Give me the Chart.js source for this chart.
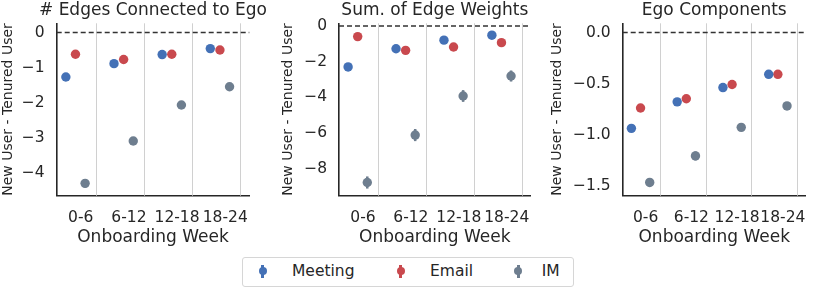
<!DOCTYPE html>
<html><head><meta charset="utf-8">
<script src="https://cdn.jsdelivr.net/npm/chart.js@4/dist/chart.umd.min.js"></script>
<style>
html,body{margin:0;padding:0;background:#fff;width:819px;height:289px;overflow:hidden;font-family:'DejaVu Sans';}
canvas.panel{position:absolute;top:0;}
#legend{position:absolute;left:241.5px;top:257px;width:332px;height:30px;border:1px solid #d6d6d6;border-radius:3px;box-sizing:border-box;}
.mk{position:absolute;}
.lt{position:absolute;font-family:'DejaVu Sans';font-size:15.5px;line-height:18px;color:#262626;white-space:nowrap;}
</style></head>
<body>
<canvas id="c1" class="panel" width="268" height="250" style="left:0px"></canvas>
<canvas id="c2" class="panel" width="266" height="250" style="left:280px"></canvas>
<canvas id="c3" class="panel" width="270" height="250" style="left:549px"></canvas>
<div id="legend"></div>
<div id="legendItems"></div>
<script>
// ---- data ----
const categories = ['0-6', '6-12', '12-18', '18-24'];
const seriesNames = ['Meeting', 'Email', 'IM'];
const panelTitles = ['# Edges Connected to Ego', 'Sum. of Edge Weights', 'Ego Components'];

const edgesMeeting = [-1.27, -0.89, -0.63, -0.46];
const edgesEmail   = [-0.62, -0.77, -0.62, -0.50];
const edgesIM      = [-4.31, -3.10, -2.07, -1.55];
const edgesIMErr   = [0.12, 0.10, 0.09, 0.08];

const weightsMeeting = [-2.30, -1.28, -0.80, -0.52];
const weightsEmail   = [-0.60, -1.37, -1.18, -0.94];
const weightsIM      = [-8.78, -6.12, -3.93, -2.81];
const weightsIMErr   = [0.34, 0.34, 0.33, 0.31];

const compMeeting = [-0.94, -0.68, -0.54, -0.41];
const compEmail   = [-0.74, -0.65, -0.51, -0.41];
const compIM      = [-1.47, -1.21, -0.93, -0.72];
const compIMErr   = [0.03, 0.045, 0.035, 0.035];

const yTicksEdges   = [0, -1, -2, -3, -4];
const yTicksWeights = [0, -2, -4, -6, -8];
const yTicksComp    = [0, -0.5, -1.0, -1.5];

// ---- style ----
const COLORS = ['#4471B6', '#C9494E', '#6E7E8F'];
const DODGE = [-0.31, -0.11, 0.09];
const GRID_OFFSET = 0.31;
const TEXT = '#262626';
const FONT = "'DejaVu Sans'";

const decor = {
  id: 'decor',
  beforeDatasetsDraw(chart) {
    const {ctx, chartArea: a, scales: {x, y}} = chart;
    ctx.save();
    ctx.strokeStyle = '#d0d0d0';
    ctx.lineWidth = 1;
    categories.forEach((c, i) => {
      const px = Math.round(x.getPixelForValue(i + GRID_OFFSET)) + 0.5;
      ctx.beginPath(); ctx.moveTo(px, a.top); ctx.lineTo(px, a.bottom); ctx.stroke();
    });
    const py = y.getPixelForValue(0);
    ctx.setLineDash([5, 3]);
    ctx.strokeStyle = '#333';
    ctx.lineWidth = 1.5;
    ctx.beginPath(); ctx.moveTo(a.left, py); ctx.lineTo(a.right, py); ctx.stroke();
    ctx.setLineDash([]);
    chart.data.datasets.forEach(ds => {
      if (!ds.err) return;
      ctx.strokeStyle = ds.backgroundColor;
      ctx.lineWidth = 2.5;
      ds.data.forEach((p, i) => {
        const px = x.getPixelForValue(p.x);
        const y1 = y.getPixelForValue(p.y - ds.err[i]);
        const y2 = y.getPixelForValue(p.y + ds.err[i]);
        ctx.beginPath(); ctx.moveTo(px, y1); ctx.lineTo(px, y2); ctx.stroke();
      });
    });
    ctx.restore();
  },
  afterDraw(chart, args, opts) {
    const {ctx, chartArea: a} = chart;
    ctx.save();
    ctx.fillStyle = TEXT;
    ctx.font = "17px 'DejaVu Sans'";
    ctx.textAlign = 'center';
    ctx.textBaseline = 'middle';
    ctx.fillText(opts.text, (a.left + a.right) / 2, 10.5);
    ctx.restore();
  }
};

function fmtTick(v, dec) {
  const s = Math.abs(v).toFixed(dec);
  return (v < 0 ? '\u2212' : '') + s;
}

function makeChart(id, title, series, errs, yMin, yMax, yTicks, dec, yWidth, rightPad) {
  const datasets = series.map((vals, s) => ({
    label: seriesNames[s],
    data: vals.map((v, i) => ({x: i + DODGE[s], y: v})),
    backgroundColor: COLORS[s],
    borderColor: COLORS[s],
    borderWidth: 0,
    pointRadius: 4.7,
    pointHoverRadius: 4.7,
    showLine: false,
    err: errs[s]
  }));
  return new Chart(document.getElementById(id), {
    type: 'scatter',
    data: {datasets},
    plugins: [decor],
    options: {
      responsive: false,
      animation: false,
      devicePixelRatio: 1,
      layout: {padding: {left: 0, right: rightPad, top: 23.3, bottom: 0}},
      plugins: {
        legend: {display: false},
        tooltip: {enabled: false},
        title: {display: false},
        decor: {text: title}
      },
      scales: {
        x: {
          type: 'linear', min: -0.5, max: 3.5,
          afterBuildTicks: s => { s.ticks = categories.map((c, i) => ({value: i})); },
          afterFit: s => { s.height = 54.3; },
          ticks: {callback: (v, i) => categories[i], autoSkip: false, maxRotation: 0, minRotation: 0,
                  padding: 13, color: TEXT, font: {family: FONT, size: 15.5}},
          grid: {display: false, drawTicks: false},
          border: {display: true, color: TEXT, width: 1.6},
          title: {display: true, text: 'Onboarding Week', color: TEXT,
                  font: {family: FONT, size: 17}, padding: {top: 0, bottom: 2}}
        },
        y: {
          type: 'linear', min: yMin, max: yMax,
          afterBuildTicks: s => { s.ticks = yTicks.map(v => ({value: v})); },
          afterFit: s => { s.width = yWidth; },
          ticks: {callback: v => fmtTick(v, dec), padding: 12, color: TEXT, font: {family: FONT, size: 15.5}},
          grid: {display: false, drawTicks: false},
          border: {display: true, color: TEXT, width: 1.6},
          title: {display: true, text: 'New User - Tenured User', color: TEXT,
                  font: {family: FONT, size: 14}, padding: {top: 0, bottom: 0}}
        }
      }
    }
  });
}

makeChart('c1', panelTitles[0], [edgesMeeting, edgesEmail, edgesIM], [null, null, edgesIMErr],
  -4.663, 0.263, yTicksEdges, 0, 56.7, 268 - 249.3);
makeChart('c2', panelTitles[1], [weightsMeeting, weightsEmail, weightsIM], [null, null, weightsIMErr],
  -9.52, 0.146, yTicksWeights, 0, 59, 266 - 250.7);
makeChart('c3', panelTitles[2], [compMeeting, compEmail, compIM], [null, null, compIMErr],
  -1.6, 0.09, yTicksComp, 1, 73.7, 4);

// ---- legend ----
const legendPos = [[262.7, 292], [400.7, 430], [518.3, 541.7]];
const li = document.getElementById('legendItems');
seriesNames.forEach((name, s) => {
  const [cx, tx] = legendPos[s];
  const cy = 271;
  const line = document.createElement('div');
  line.className = 'mk';
  Object.assign(line.style, {left: (cx - 1.25) + 'px', top: (cy - 6.5) + 'px', width: '2.5px', height: '13px', background: COLORS[s]});
  const dot = document.createElement('div');
  dot.className = 'mk';
  Object.assign(dot.style, {left: (cx - 4) + 'px', top: (cy - 4) + 'px', width: '8px', height: '8px', borderRadius: '50%', background: COLORS[s]});
  const t = document.createElement('div');
  t.className = 'lt';
  t.textContent = name;
  Object.assign(t.style, {left: tx + 'px', top: (cy - 9) + 'px'});
  li.appendChild(line); li.appendChild(dot); li.appendChild(t);
});
</script>
</body></html>
